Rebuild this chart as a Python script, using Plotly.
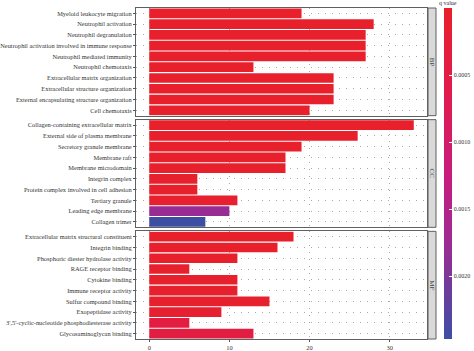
import plotly.graph_objects as go
from plotly.subplots import make_subplots

# ---- data ----
bp_terms = ["Myeloid leukocyte migration", "Neutrophil activation", "Neutrophil degranulation",
            "Neutrophil activation involved in immune response", "Neutrophil mediated immunity",
            "Neutrophil chemotaxis", "Extracellular matrix organization",
            "Extracellular structure organization", "External encapsulating structure organization",
            "Cell chemotaxis"]
bp_counts = [19, 28, 27, 27, 27, 13, 23, 23, 23, 20]
bp_q = [0.00001, 0.00001, 0.00001, 0.00001, 0.00001, 0.00001, 0.00001, 0.00001, 0.00001, 0.00002]

cc_terms = ["Collagen-containing extracellular matrix", "External side of plasma membrane",
            "Secretory granule membrane", "Membrane raft", "Membrane microdomain",
            "Integrin complex", "Protein complex involved in cell adhesion", "Tertiary granule",
            "Leading edge membrane", "Collagen trimer"]
cc_counts = [33, 26, 19, 17, 17, 6, 6, 11, 10, 7]
cc_q = [0.00001, 0.00001, 0.00002, 0.00003, 0.00003, 0.00005, 0.00006, 0.00008, 0.00178, 0.00247]

mf_terms = ["Extracellular matrix structural constituent", "Integrin binding",
            "Phosphoric diester hydrolase activity", "RAGE receptor binding", "Cytokine binding",
            "Immune receptor activity", "Sulfur compound binding", "Exopeptidase activity",
            "3',5'-cyclic-nucleotide phosphodiesterase activity", "Glycosaminoglycan binding"]
mf_counts = [18, 16, 11, 5, 11, 11, 15, 9, 5, 13]
mf_q = [0.00001, 0.00001, 0.00003, 0.00005, 0.00006, 0.00006, 0.00007, 0.00012, 0.00040, 0.00042]

panel_names = ["BP", "CC", "MF"]
colorbar_ticks = [0.0005, 0.0010, 0.0015, 0.0020]
x_ticks = [0, 10, 20, 30]
q_max = 0.00247

W, H = 474, 351
ML, MR, MT, MB = 136, 47, 8, 12
PW = W - ML - MR
PH = H - MT - MB

fig = make_subplots(rows=3, cols=1, shared_xaxes=True, vertical_spacing=4 / PH)

serif = "Liberation Serif"
groups = [(bp_terms, bp_counts, bp_q), (cc_terms, cc_counts, cc_q), (mf_terms, mf_counts, mf_q)]
for i, (t, c, q) in enumerate(groups):
    # negated q so the colour bar reads 0 at the top, as in the reference
    fig.add_trace(go.Bar(
        y=t, x=c, orientation="h",
        marker=dict(color=[-v for v in q], coloraxis="coloraxis", line=dict(width=0)),
        customdata=q,
        showlegend=False,
    ), row=i + 1, col=1)

base = dict(showgrid=True, gridcolor="#a8a8a8", griddash="1px,6px", gridwidth=1,
            showline=True, mirror=True, linecolor="#606060", linewidth=1,
            zeroline=False, tickcolor="#555555",
            tickfont=dict(family=serif, size=6.4, color="#333333"))

for i in range(3):
    fig.update_xaxes(range=[-1.65, 34.65], tickvals=x_ticks,
                     ticks="outside" if i == 2 else "", ticklen=2,
                     **base, row=i + 1, col=1)
    fig.update_yaxes(autorange="reversed", ticks="outside", ticklen=2, **base, row=i + 1, col=1)
fig.update_xaxes(showticklabels=True, row=3, col=1)

fig.update_layout(
    width=W, height=H,
    margin=dict(l=ML, r=MR, t=MT, b=MB, autoexpand=False),
    paper_bgcolor="white", plot_bgcolor="white",
    bargap=0.1,
    coloraxis=dict(
        cmin=-q_max, cmax=0,
        colorscale=[[0, "#3D4FA3"], [0.15, "#6E3C9C"], [0.3, "#A02A92"], [0.5, "#C81C7C"],
                    [0.7, "#DE1B55"], [1, "#E8202A"]],
        colorbar=dict(
            x=(444 - ML) / PW, xanchor="left", y=0.5, yanchor="middle",
            len=1, lenmode="fraction", thickness=8, ypad=0, xpad=0,
            outlinewidth=0,
            tickvals=[-v for v in colorbar_ticks],
            ticktext=["%.4f" % v for v in colorbar_ticks],
            ticks="inside", ticklen=3, tickcolor="white",
            tickfont=dict(family=serif, size=6, color="#333333"),
        ),
    ),
)

# strips
xs0 = (428 - ML) / PW
xs1 = (436 - ML) / PW
for i, name in enumerate(panel_names):
    ya = fig.layout["yaxis" + ("" if i == 0 else str(i + 1))]
    d0, d1 = ya.domain
    fig.add_shape(type="rect", xref="paper", yref="paper", x0=xs0, x1=xs1, y0=d0, y1=d1,
                  fillcolor="#d9d9d9", line=dict(color="#606060", width=1), layer="below")
    fig.add_annotation(xref="paper", yref="paper", x=(xs0 + xs1) / 2, y=(d0 + d1) / 2,
                       text=name, textangle=90, showarrow=False,
                       xanchor="center", yanchor="middle",
                       font=dict(family=serif, size=7, color="#444444"))

fig.add_annotation(xref="paper", yref="paper", x=(448 - ML) / PW, y=(H - MB - 3) / PH,
                   text="q value", showarrow=False, xanchor="center", yanchor="middle",
                   font=dict(family=serif, size=6, color="#333333"))

fig.write_html("out.html")
